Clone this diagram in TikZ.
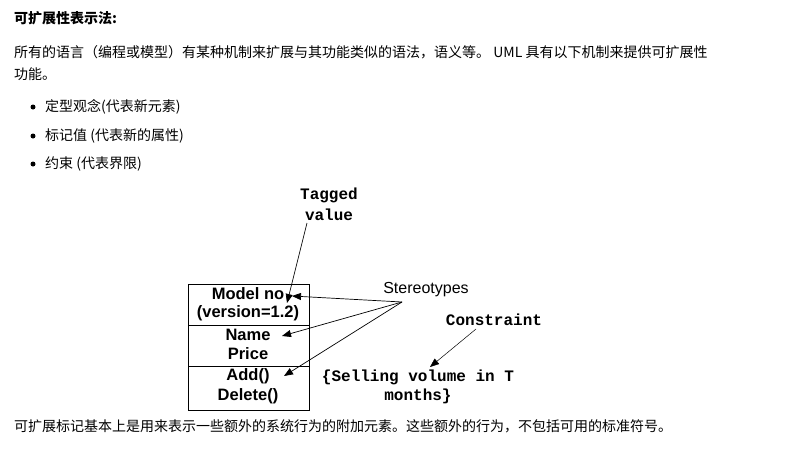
\documentclass[tikz,border=0pt]{standalone}
\usepackage{fontspec}
\setmainfont{Liberation Sans}
\newfontfamily\cjk{Noto Sans CJK SC}
\newfontfamily\mono{Liberation Mono}
\usetikzlibrary{arrows.meta}
\begin{document}
\begin{tikzpicture}[x=1pt,y=-1pt,
  cj/.style={anchor=west,inner sep=0pt,font=\cjk\fontsize{14}{16}\selectfont},
  bx/.style={inner sep=0pt,font=\bfseries\fontsize{16.5}{18}\selectfont},
  mn/.style={inner sep=0pt,font=\mono\bfseries\fontsize{16}{18}\selectfont},
  ar/.style={-{Triangle[length=9pt,width=7pt]},line width=0.7pt}]
\useasboundingbox[fill=white] (0,0) rectangle (787,461);
\node[cj,font=\cjk\bfseries\fontsize{14}{16}\selectfont] (t) at (14,18) {可扩展性表示法:};
\node[cj] (p1) at (14,52) {所有的语言（编程或模型）有某种机制来扩展与其功能类似的语法，语义等。 UML 具有以下机制来提供可扩展性};
\node[cj] (p2) at (14,74) {功能。};
\foreach \y/\s [count=\i] in {107/定型观念(代表新元素),136/标记值 (代表新的属性),164/约束 (代表界限)}{
  \fill (33,\y) circle (2.5);
  \node[cj] (b\i) at (45,\y) {\s};
}
\node[cj] (end) at (14,426) {可扩展标记基本上是用来表示一些额外的系统行为的附加元素。这些额外的行为，不包括可用的标准符号。};
\draw[line width=0.9pt] (188,284) rectangle (309,410);
\draw[line width=0.9pt] (188,325) -- (309,325);
\draw[line width=0.9pt] (188,366) -- (309,366);
\node[bx] (m1) at (248,294) {Model no};
\node[bx] (m2) at (248,313) {(version=1.2)};
\node[bx] (n1) at (248,335) {Name};
\node[bx] (n2) at (248,354) {Price};
\node[bx] (a1) at (248,376) {Add()};
\node[bx] (a2) at (248,396) {Delete()};
\node[mn] (tg) at (329,195) {Tagged};
\node[mn] (tv) at (329,215) {value};
\node[inner sep=0pt,font=\fontsize{16}{18}\selectfont] (st) at (426,290) {Stereotypes};
\node[mn] (co) at (494,320) {Constraint};
\node[mn] (s1) at (418,377) {\{Selling volume in T};
\node[mn] (s2) at (418,396) {months\}};
\coordinate (tvs) at (307,223);
\coordinate (tve) at (287,303);
\coordinate (sts) at (402,302);
\coordinate (e1) at (292,296);
\coordinate (e2) at (282,336);
\coordinate (e3) at (284,376);
\coordinate (cos) at (476,329);
\coordinate (coe) at (430,367);
\draw[ar] (tvs) -- (tve);
\draw[ar] (sts) -- (e1);
\draw[ar] (sts) -- (e2);
\draw[ar] (sts) -- (e3);
\draw[ar,line width=0.5pt] (cos) -- (coe);
\end{tikzpicture}
\end{document}
